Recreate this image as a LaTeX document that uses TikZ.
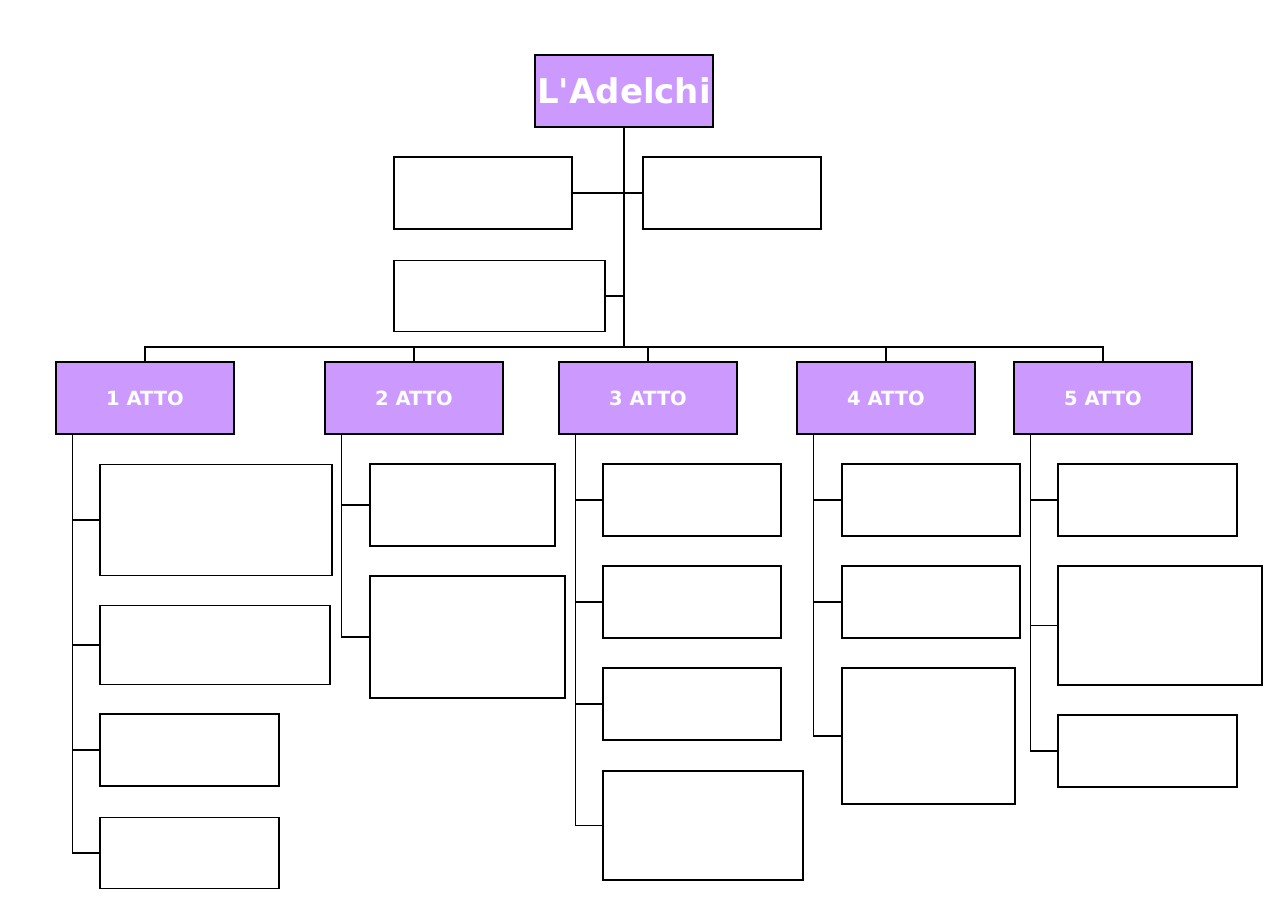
\documentclass[tikz,border=0pt]{standalone}
\usepackage{fontspec}
\setmainfont{DejaVu Sans}
\newfontfamily\rootfont{DejaVu Sans}
\usetikzlibrary{positioning}
\definecolor{lilac}{HTML}{CC99FF}
\tikzset{
  box/.style={draw, line width=1.5pt, fill=white, inner sep=0pt},
  act/.style={box, fill=lilac, minimum width=178pt, minimum height=72pt,
    text=white, font=\bfseries\fontsize{19.5}{22}\selectfont},
  link/.style={line width=1.5pt}
}
\begin{document}
\begin{tikzpicture}[x=1pt,y=-1pt]
  \useasboundingbox (0,0) rectangle (1280,905);
  % title and side boxes
  \node[box, fill=lilac, minimum width=178pt, minimum height=72pt, text=white,
    font=\rootfont\bfseries\fontsize{34}{38}\selectfont] (root) at (624,91) {L'Adelchi};
  \node[box, minimum width=178pt, minimum height=72pt] (s1) at (483,193) {};
  \node[box, minimum width=178pt, minimum height=72pt] (s2) at (732,193) {};
  \node[box, minimum width=211pt, minimum height=71pt] (s3) at (499.5,296) {};
  \coordinate (hub) at (624,347);
  \draw[link, line width=2.2pt] (root.south) -- (hub);
  \draw[link] (s1.east) -- (s2.west);
  \draw[link] (s3.east) -- (s3.east -| hub);
  % acts
  \node[act] (a1) at (145,398) {1 ATTO};
  \node[act] (a2) at (414,398) {2 ATTO};
  \node[act] (a3) at (648,398) {3 ATTO};
  \node[act] (a4) at (886,398) {4 ATTO};
  \node[act] (a5) at (1103,398) {5 ATTO};
  \draw[link] (a1.north) |- (hub) -| (a5.north);
  \foreach \a in {a2,a3,a4} \draw[link] (\a.north) -- (\a.north |- hub);
  % act 1
  \node[box, minimum width=232pt, minimum height=111pt] (a1b1) at (216,520) {};
  \node[box, minimum width=230pt, minimum height=79pt] (a1b2) at (215,645) {};
  \node[box, minimum width=179pt, minimum height=72pt] (a1b3) at (189.5,750) {};
  \node[box, minimum width=179pt, minimum height=71pt] (a1b4) at (189.5,853) {};
  % act 2
  \node[box, minimum width=185pt, minimum height=82pt] (a2b1) at (462.5,505) {};
  \node[box, minimum width=195pt, minimum height=122pt] (a2b2) at (467.5,637) {};
  % act 3
  \node[box, minimum width=178pt, minimum height=72pt] (a3b1) at (692,500) {};
  \node[box, minimum width=178pt, minimum height=72pt] (a3b2) at (692,602) {};
  \node[box, minimum width=178pt, minimum height=72pt] (a3b3) at (692,704) {};
  \node[box, minimum width=200pt, minimum height=109pt] (a3b4) at (703,825.5) {};
  % act 4
  \node[box, minimum width=178pt, minimum height=72pt] (a4b1) at (931,500) {};
  \node[box, minimum width=178pt, minimum height=72pt] (a4b2) at (931,602) {};
  \node[box, minimum width=173pt, minimum height=136pt] (a4b3) at (928.5,736) {};
  % act 5
  \node[box, minimum width=179pt, minimum height=72pt] (a5b1) at (1147.5,500) {};
  \node[box, minimum width=204pt, minimum height=119pt] (a5b2) at (1160,625.5) {};
  \node[box, minimum width=179pt, minimum height=72pt] (a5b3) at (1147.5,751) {};
  % spines
  \foreach \a/\last in {a1/a1b4,a2/a2b2,a3/a3b4,a4/a4b3,a5/a5b3}
    \draw[link] ([xshift=17pt]\a.south west) |- (\last.west);
  \foreach \b/\a in {a1b1/a1,a1b2/a1,a1b3/a1,a2b1/a2,a3b1/a3,a3b2/a3,a3b3/a3,
      a4b1/a4,a4b2/a4,a5b1/a5,a5b2/a5}
    \draw[link] (\b.west) -- ([xshift=17pt]\a.south west |- \b.west);
\end{tikzpicture}
\end{document}
